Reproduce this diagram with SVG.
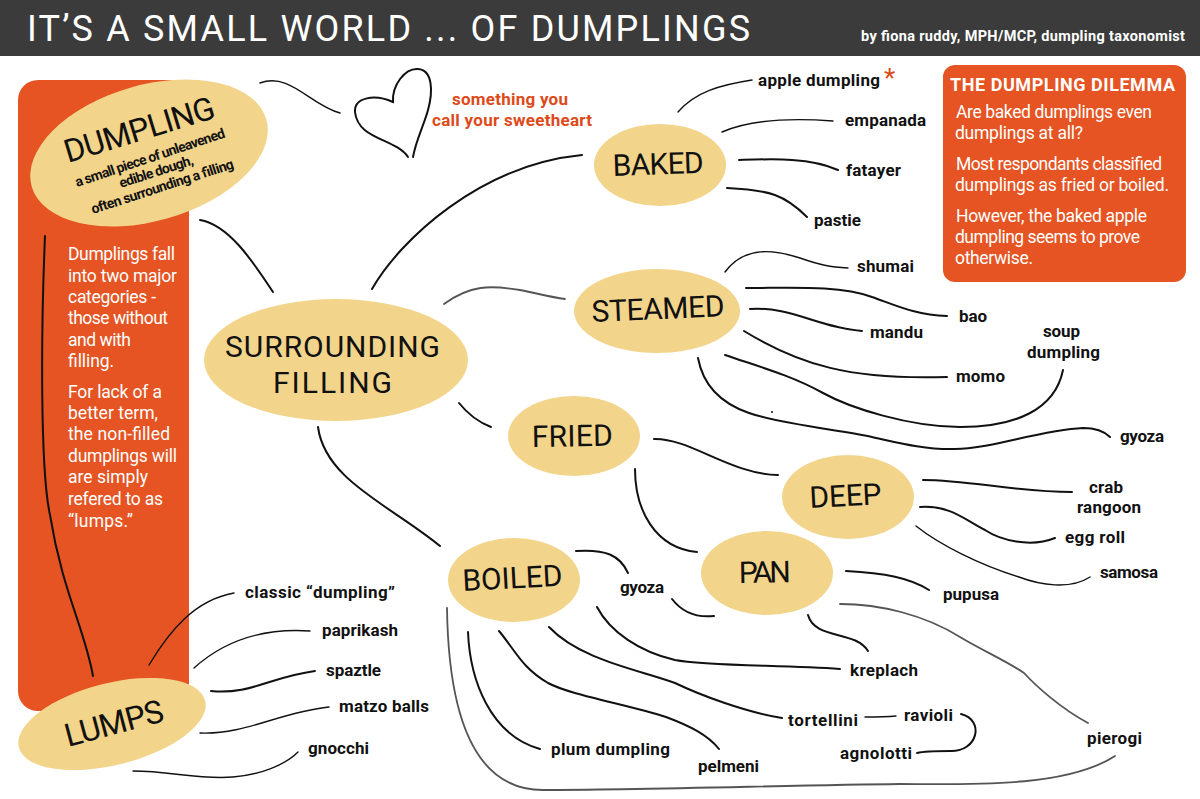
<svg xmlns="http://www.w3.org/2000/svg" width="1200" height="799" viewBox="0 0 1200 799">
<style>
text{font-family:"Liberation Sans Narrow","Roboto","Liberation Sans",sans-serif}
.bub{fill:#f2d48b}
.box{fill:#e55422}
.big{font-size:30px;fill:#111}
.lab{font-size:17px;font-weight:700;fill:#111}
.red{font-size:17px;font-weight:700;fill:#dd4a1a}
.body{font-size:17.500px;fill:#fff}
.sub{font-size:14px;font-weight:700;fill:#111}
.c{fill:none;stroke:#111;stroke-width:2;stroke-linecap:round}
.t{stroke-width:1.4}
.g{stroke:#555;stroke-width:1.8}
</style>
<rect id="header-bar" x="0" y="0" width="1200" height="56" fill="#3b3b3b"/>
<text id="title" x="27" y="41" font-size="36" fill="#fff" textLength="723">IT’S A SMALL WORLD ... OF DUMPLINGS</text>
<text id="byline" x="861" y="41" font-size="14.500" font-weight="700" fill="#fff" textLength="324">by fiona ruddy, MPH/MCP, dumpling taxonomist</text>

<rect id="side-panel" class="box" x="18" y="80" width="171" height="631" rx="20"/>

<g id="connectors">
<path class="c t" d="M260 83C290 72 310 105 340 113"/>
<path class="c" d="M408 157C395 138 358 140 355 112C354 97 375 94 393 102C392 85 405 68 418 69C433 70 433 92 428 110C424 125 416 140 413 157"/>
<path class="c" d="M200 220C230 225 255 265 273 292"/>
<path class="c" d="M372 289C400 240 480 165 582 155"/>
<path class="c g" d="M444 304C470 285 490 285 520 290C540 294 550 297 565 299"/>
<path class="c" d="M459 403C467 413 478 422 491 427"/>
<path class="c" d="M318 427C325 480 390 505 440 546"/>
<path class="c t" d="M678 112C695 92 720 85 752 80"/>
<path class="c t" d="M722 132C745 122 780 117 833 121"/>
<path class="c" d="M739 160C770 159 810 157 838 170"/>
<path class="c" d="M727 188C770 190 785 195 807 217"/>
<path class="c t" d="M725 272C745 245 775 250 800 258C820 265 830 267 848 268"/>
<path class="c" d="M746 288C790 288 840 285 872 297C895 305 915 315 947 316"/>
<path class="c" d="M750 309C790 306 820 328 862 331"/>
<path class="c" d="M744 331C800 365 850 380 947 377"/>
<path class="c" d="M725 355C760 367 790 375 823 393C850 408 910 427 960 427C1015 427 1055 410 1063 370"/>
<path class="c" d="M698 358C703 385 720 403 749 413C780 424 840 430 872 437C895 442 925 450 955 449C990 449 1040 430 1083 428C1095 428 1105 432 1110 437"/>
<circle cx="772" cy="412" r="1" fill="#111"/>
<path class="c" d="M654 439C690 438 730 474 778 475"/>
<path class="c" d="M635 469C635 510 655 548 697 552"/>
<path class="c" d="M923 480C970 480 1015 492 1072 492"/>
<path class="c" d="M920 507C950 505 965 520 985 530C1000 540 1030 548 1055 538"/>
<path class="c t" d="M916 526C940 545 980 565 1019 577C1040 585 1070 590 1090 577"/>
<path class="c" d="M846 571C885 573 910 578 929 590"/>
<path class="c" d="M808 615C815 640 855 630 868 651"/>
<path class="c g" d="M840 604C880 604 925 615 960 637C985 652 1005 660 1024 673C1035 685 1060 708 1088 723"/>
<path class="c" d="M714 616C695 618 682 612 672 599"/>
<path class="c" d="M576 551C605 549 620 555 628 573"/>
<path class="c" d="M597 607C610 632 640 652 675 660C705 666 780 665 840 669"/>
<path class="c" d="M549 627C580 660 640 670 675 683C700 695 745 712 782 718"/>
<path class="c" d="M499 631C515 650 522 668 548 683C570 695 630 705 666 717C690 726 708 735 719 749"/>
<path class="c" d="M468 632C470 680 490 735 540 749"/>
<path class="c g" d="M447 608C448 680 460 790 543 790C640 790 800 785 900 784C990 785 1070 785 1115 756"/>
<path class="c t" d="M865 717C875 717 885 717 896 716"/>
<path class="c" d="M961 714C985 720 978 752 950 751C935 751 925 751 917 753"/>
<path class="c" d="M45 236C41 330 40 470 50 515C62 590 85 630 93 676"/>
<path class="c t" d="M149 665C170 630 195 600 234 593"/>
<path class="c t" d="M194 668C225 640 265 628 310 631"/>
<path class="c" d="M211 691C250 695 270 677 315 671"/>
<path class="c t" d="M200 733C245 735 280 712 329 707"/>
<path class="c t" d="M133 771C170 771 200 780 233 777C260 775 285 765 298 752"/>
</g>

<g id="node-dumpling">
<ellipse class="bub" cx="149" cy="153" rx="122" ry="68" transform="rotate(-16 149 153)"/>
<text transform="translate(68 163) rotate(-17)" font-size="32" fill="#111" textLength="156">DUMPLING</text>
<text class="sub" transform="translate(77 187) rotate(-18.500)" textLength="157">a small piece of unleavened</text>
<text class="sub" transform="translate(121 188) rotate(-18)" textLength="77">edible dough,</text>
<text class="sub" transform="translate(93 214) rotate(-18)" textLength="149">often surrounding a filling</text>
</g>
<g id="node-surrounding-filling">
<ellipse class="bub" cx="336" cy="360" rx="132" ry="61"/>
<text class="big" x="225" y="357" textLength="215">SURROUNDING</text>
<text class="big" x="273" y="393" textLength="119">FILLING</text>
</g>
<g id="node-baked">
<ellipse class="bub" cx="660" cy="165" rx="66" ry="41"/>
<text class="big" transform="translate(613 176) rotate(-2)" textLength="91">BAKED</text>
</g>
<g id="node-steamed">
<ellipse class="bub" cx="657" cy="311" rx="83" ry="42"/>
<text class="big" transform="translate(592 322) rotate(-2.500)" textLength="133">STEAMED</text>
</g>
<g id="node-fried">
<ellipse class="bub" cx="574" cy="436" rx="66" ry="40"/>
<text class="big" transform="translate(532 447) rotate(-1)" textLength="81">FRIED</text>
</g>
<g id="node-deep">
<ellipse class="bub" cx="848" cy="497" rx="66" ry="42"/>
<text class="big" transform="translate(810 508) rotate(-3)" textLength="72">DEEP</text>
</g>
<g id="node-pan">
<ellipse class="bub" cx="767" cy="573" rx="66" ry="42"/>
<text class="big" transform="translate(739 583) rotate(-1)" textLength="52">PAN</text>
</g>
<g id="node-boiled">
<ellipse class="bub" cx="514" cy="580" rx="66" ry="42"/>
<text class="big" transform="translate(463 591) rotate(-3)" textLength="100">BOILED</text>
</g>
<g id="node-lumps">
<ellipse class="bub" cx="112" cy="724" rx="96" ry="41" transform="rotate(-14 112 724)"/>
<text transform="translate(68 747) rotate(-15)" font-size="32" fill="#111" textLength="101">LUMPS</text>
</g>

<g id="note-side">
<text class="body" x="68" y="260" textLength="107">Dumplings fall</text>
<text class="body" x="68" y="282" textLength="109">into two major</text>
<text class="body" x="68" y="303" textLength="88">categories -</text>
<text class="body" x="68" y="324" textLength="100">those without</text>
<text class="body" x="68" y="346" textLength="63">and with</text>
<text class="body" x="68" y="367" textLength="46">filling.</text>
<text class="body" x="68" y="398" textLength="94">For lack of a</text>
<text class="body" x="68" y="419" textLength="90">better term,</text>
<text class="body" x="68" y="440" textLength="102">the non-filled</text>
<text class="body" x="68" y="462" textLength="109">dumplings will</text>
<text class="body" x="68" y="483" textLength="80">are simply</text>
<text class="body" x="68" y="505" textLength="95">refered to as</text>
<text class="body" x="68" y="527" textLength="65">“lumps.”</text>
</g>

<g id="note-dilemma">
<rect class="box" x="943" y="65" width="243" height="217" rx="12"/>
<text x="950" y="91" font-size="18" font-weight="700" fill="#fff" textLength="225">THE DUMPLING DILEMMA</text>
<text class="body" x="956" y="118" textLength="196">Are baked dumplings even</text>
<text class="body" x="955" y="139" textLength="128">dumplings at all?</text>
<text class="body" x="956" y="170" textLength="206">Most respondants classified</text>
<text class="body" x="955" y="191" textLength="214">dumplings as fried or boiled.</text>
<text class="body" x="956" y="222" textLength="191">However, the baked apple</text>
<text class="body" x="955" y="243" textLength="185">dumpling seems to prove</text>
<text class="body" x="955" y="264" textLength="78">otherwise.</text>
</g>

<g id="node-sweetheart">
<text class="red" x="452" y="105" textLength="116">something you</text>
<text class="red" x="432" y="126" textLength="160">call your sweetheart</text>
</g>
<g id="node-apple-dumpling"><text class="lab" x="758" y="86" textLength="122">apple dumpling</text><text x="884" y="87" font-size="26" fill="#dd4a1a">*</text></g>
<g id="node-empanada"><text class="lab" x="845" y="126" textLength="81">empanada</text></g>
<g id="node-fatayer"><text class="lab" x="846" y="176" textLength="55">fatayer</text></g>
<g id="node-pastie"><text class="lab" x="814" y="226" textLength="47">pastie</text></g>
<g id="node-shumai"><text class="lab" x="857" y="272" textLength="57">shumai</text></g>
<g id="node-bao"><text class="lab" x="959" y="322" textLength="28">bao</text></g>
<g id="node-mandu"><text class="lab" x="870" y="338" textLength="53">mandu</text></g>
<g id="node-soup-dumpling"><text class="lab" x="1043" y="337" textLength="37">soup</text><text class="lab" x="1027" y="358" textLength="73">dumpling</text></g>
<g id="node-momo"><text class="lab" x="956" y="382" textLength="49">momo</text></g>
<g id="node-gyoza-steamed"><text class="lab" x="1120" y="442" textLength="44">gyoza</text></g>
<g id="node-crab-rangoon"><text class="lab" x="1089" y="493" textLength="34">crab</text><text class="lab" x="1077" y="513" textLength="64">rangoon</text></g>
<g id="node-egg-roll"><text class="lab" x="1065" y="543" textLength="60">egg roll</text></g>
<g id="node-samosa"><text class="lab" x="1100" y="578" textLength="58">samosa</text></g>
<g id="node-pupusa"><text class="lab" x="943" y="600" textLength="56">pupusa</text></g>
<g id="node-gyoza-boiled"><text class="lab" x="620" y="593" textLength="44">gyoza</text></g>
<g id="node-kreplach"><text class="lab" x="850" y="676" textLength="68">kreplach</text></g>
<g id="node-tortellini"><text class="lab" x="788" y="726" textLength="70">tortellini</text></g>
<g id="node-ravioli"><text class="lab" x="904" y="721" textLength="49">ravioli</text></g>
<g id="node-agnolotti"><text class="lab" x="840" y="759" textLength="72">agnolotti</text></g>
<g id="node-pierogi"><text class="lab" x="1087" y="744" textLength="55">pierogi</text></g>
<g id="node-plum-dumpling"><text class="lab" x="551" y="755" textLength="119">plum dumpling</text></g>
<g id="node-pelmeni"><text class="lab" x="698" y="772" textLength="61">pelmeni</text></g>
<g id="node-classic-dumpling"><text class="lab" x="245" y="598" textLength="150">classic “dumpling”</text></g>
<g id="node-paprikash"><text class="lab" x="322" y="636" textLength="76">paprikash</text></g>
<g id="node-spaztle"><text class="lab" x="326" y="676" textLength="55">spaztle</text></g>
<g id="node-matzo-balls"><text class="lab" x="339" y="712" textLength="90">matzo balls</text></g>
<g id="node-gnocchi"><text class="lab" x="308" y="754" textLength="61">gnocchi</text></g>
</svg>
